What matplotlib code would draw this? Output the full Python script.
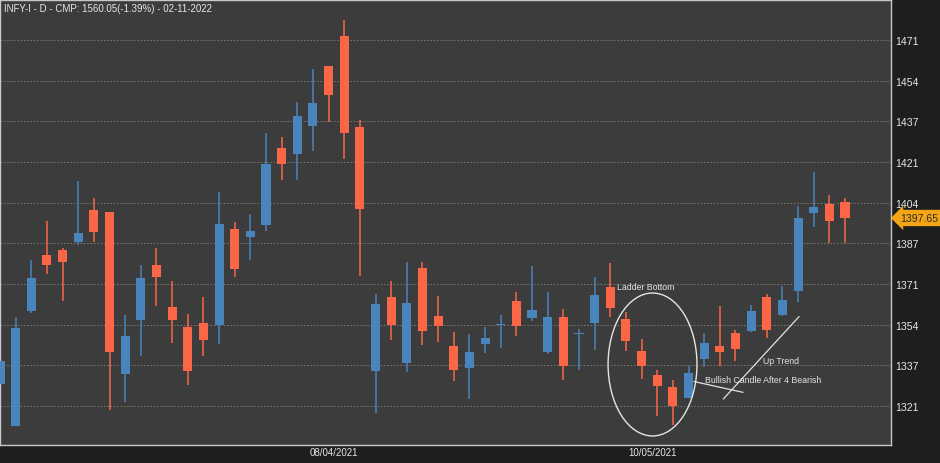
import matplotlib.pyplot as plt
import numpy as np
from matplotlib.patches import Ellipse

plt.rcParams["font.family"] = ["Liberation Sans", "DejaVu Sans"]

TITLE = "INFY-I - D - CMP: 1560.05(-1.39%) - 02-11-2022"
LAST_PRICE = 1397.65

opens = [1329.6, 1312.3, 1359.7, 1382.6, 1384.7, 1387.9, 1401.0, 1400.2, 1333.7, 1356.0,
         1378.4, 1361.2, 1353.1, 1354.7, 1353.9, 1393.0, 1389.9, 1394.8, 1426.2, 1423.9,
         1435.2, 1459.8, 1472.4, 1435.1, 1335.1, 1365.1, 1338.3, 1377.0, 1357.6, 1345.1,
         1336.0, 1346.1, 1353.6, 1363.5, 1356.7, 1342.6, 1357.2, 1349.9, 1354.7, 1369.2,
         1356.3, 1343.0, 1333.3, 1328.3, 1323.9, 1339.9, 1345.1, 1350.4, 1351.5, 1365.1,
         1358.0, 1367.6, 1399.6, 1403.4, 1404.1]
highs = [1341.9, 1356.9, 1380.6, 1396.5, 1385.2, 1412.9, 1405.7, 1400.2, 1358.0, 1378.5,
         1385.2, 1371.8, 1358.2, 1365.4, 1408.2, 1396.1, 1399.3, 1432.5, 1430.7, 1445.1,
         1458.7, 1459.8, 1478.8, 1437.8, 1366.5, 1371.9, 1379.5, 1379.5, 1365.5, 1351.0,
         1350.0, 1352.9, 1357.9, 1367.2, 1378.1, 1367.2, 1360.4, 1352.2, 1373.3, 1379.2,
         1359.0, 1348.1, 1335.4, 1331.4, 1336.9, 1350.4, 1361.7, 1351.9, 1362.1, 1366.5,
         1369.9, 1402.7, 1416.4, 1407.2, 1405.7]
lows = [1327.6, 1312.3, 1358.6, 1374.7, 1363.8, 1386.6, 1387.9, 1319.1, 1322.1, 1341.2,
        1361.7, 1346.4, 1329.2, 1341.2, 1346.0, 1373.3, 1380.4, 1392.4, 1413.2, 1413.2,
        1425.2, 1436.9, 1421.7, 1374.0, 1317.7, 1347.8, 1334.7, 1345.7, 1346.7, 1330.7,
        1323.5, 1342.2, 1344.4, 1349.2, 1355.3, 1341.9, 1331.3, 1335.5, 1343.7, 1356.9,
        1343.3, 1331.7, 1316.6, 1312.9, 1323.9, 1336.5, 1337.1, 1338.9, 1350.8, 1348.3,
        1357.6, 1363.1, 1393.8, 1387.3, 1387.3]
closes = [1339.0, 1352.4, 1373.2, 1378.5, 1379.5, 1391.4, 1391.8, 1342.9, 1349.2, 1373.2,
          1373.6, 1355.8, 1334.9, 1347.6, 1395.1, 1376.7, 1392.3, 1419.8, 1419.7, 1439.3,
          1444.8, 1447.9, 1432.4, 1401.5, 1362.4, 1353.8, 1362.8, 1351.5, 1353.5, 1335.4,
          1342.7, 1348.5, 1354.0, 1353.5, 1360.1, 1356.9, 1336.9, 1350.3, 1366.2, 1360.6,
          1347.4, 1336.9, 1328.8, 1320.7, 1334.1, 1346.3, 1342.9, 1344.0, 1359.4, 1351.9,
          1364.0, 1397.5, 1402.0, 1396.5, 1397.65]

date_pos = [21.35, 41.7]
date_labels = ["08/04/2021", "10/05/2021"]

tick_base = 1320.6
tick_step = 150 / 9

UP = "#4a84bd"
DOWN = "#fb6647"
BG = "#3c3c3c"
OUTER = "#1e1e1e"
TXT = "#e6e6e6"

fig = plt.figure(figsize=(9.4, 4.64), dpi=100, facecolor=OUTER)
ax = fig.add_axes([0, 18 / 464, 891 / 940, 445 / 464])
ax.set_facecolor(BG)

o = np.array(opens)
h = np.array(highs)
l = np.array(lows)
c = np.array(closes)
x = np.arange(len(o))
up = c >= o
cols = np.where(up, UP, DOWN)

ax.vlines(x, l, h, colors=cols, lw=1.1, zorder=2)
body_lo = np.minimum(o, c)
body_h = np.maximum(np.abs(c - o), 0.5)
ax.bar(x, body_h, bottom=body_lo, width=0.58, color=cols, lw=0, zorder=3)

ticks = tick_base + tick_step * np.arange(10)
ax.set_yticks(ticks)
ax.set_yticklabels([f"{t:.0f}" for t in ticks])
ax.yaxis.tick_right()
ax.set_ylim(1304.6, 1487.0)
ax.set_xlim(0, 56.94)
ax.set_xticks(date_pos)
ax.set_xticklabels(date_labels)
ax.tick_params(length=0, colors=TXT, labelsize=7)
ax.tick_params(axis="y", pad=3, labelsize=7.6)
ax.tick_params(axis="x", pad=1.5)
ax.grid(axis="y", color="#7e7e7e", ls=(0, (2, 2)), lw=0.6, zorder=1)
for sp in ax.spines.values():
    sp.set_color("#c8c8c8")
    sp.set_linewidth(1)

fig.text(4 / 940, 1 - 9 / 464, TITLE, color=TXT, fontsize=7, va="center", ha="left")

# last price tag
ax.text(1.0315, LAST_PRICE, f"{LAST_PRICE:.2f}", transform=ax.get_yaxis_transform(),
        color="#2a2a2a", fontsize=7.6, ha="center", va="center", clip_on=False,
        bbox=dict(boxstyle="larrow,pad=0.3", fc="#f3a516", ec="none"))

# annotations
ann = "#e4e4e4"
fs = 6.3
ax.add_patch(Ellipse((41.7, 1337.6), 5.68, 58.6, fill=False, ec=ann, lw=1, zorder=4))
ax.text(39.4, 1369.4, "Ladder Bottom", color=ann, fontsize=fs, va="center", ha="left")
ax.plot([44.36, 47.47], [1330.6, 1326.2], color=ann, lw=0.9, zorder=4)
ax.text(45.06, 1331.3, "Bullish Candle After 4 Bearish", color=ann, fontsize=fs, va="center", ha="left")
ax.plot([46.23, 51.06], [1323.5, 1357.2], color=ann, lw=0.9, zorder=4)
ax.text(48.75, 1339.2, "Up Trend", color=ann, fontsize=fs, va="center", ha="left")

fig.savefig("out.png", dpi=100, facecolor=OUTER)
